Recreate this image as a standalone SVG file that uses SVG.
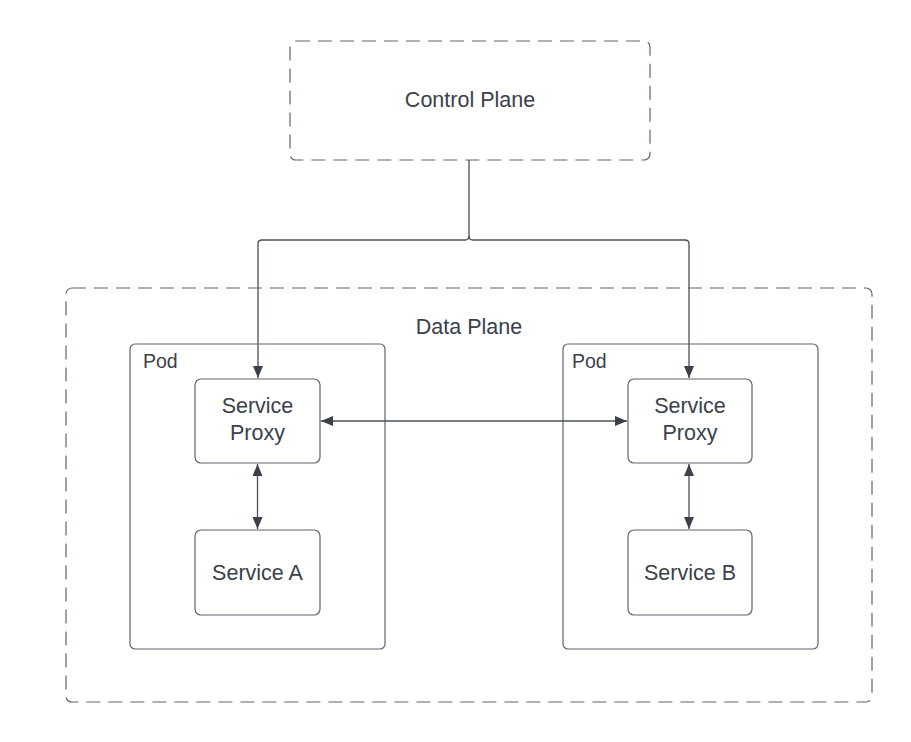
<svg xmlns="http://www.w3.org/2000/svg" width="911" height="742" viewBox="0 0 911 742">
<style>
text{font-family:"Liberation Sans",Arial,sans-serif;fill:#3a414a}
.dash{fill:none;stroke:#5e6670;stroke-width:1.2;stroke-dasharray:14 8}
.box{fill:#fff;stroke:#5e6670;stroke-width:1.2}
.c{fill:none;stroke:#4a5058;stroke-width:1.3}
</style>
<defs>
<marker id="ah" viewBox="0 0 12 10" refX="12" refY="5" markerWidth="12" markerHeight="10" markerUnits="userSpaceOnUse" orient="auto-start-reverse">
<path d="M0,0 L12,5 L0,10 Z" fill="#3a414a"/>
</marker>
</defs>
<rect width="911" height="742" fill="#fff"/>
<g id="control-plane"><rect class="dash" x="290" y="41" width="360" height="119" rx="6"/>
<text x="470" y="107" font-size="21.5" text-anchor="middle">Control Plane</text></g>
<g id="data-plane"><rect class="dash" x="66" y="288" width="806" height="414" rx="6"/>
<text x="469" y="334" font-size="21.5" text-anchor="middle">Data Plane</text></g>
<g id="pod-left"><rect class="box" x="130" y="344" width="255" height="305" rx="5"/>
<text x="143" y="368" font-size="19.5">Pod</text></g>
<g id="pod-right"><rect class="box" x="563" y="344" width="255" height="305" rx="5"/>
<text x="572" y="368" font-size="19.5">Pod</text></g>
<g id="proxy-left"><rect class="box" x="195" y="379" width="125" height="84" rx="6"/>
<text x="257.5" y="413" font-size="21.5" text-anchor="middle">Service</text>
<text x="257.5" y="440" font-size="21.5" text-anchor="middle">Proxy</text></g>
<g id="service-a"><rect class="box" x="195" y="530" width="125" height="85" rx="6"/>
<text x="257.5" y="580" font-size="21.5" text-anchor="middle">Service A</text></g>
<g id="proxy-right"><rect class="box" x="628" y="379" width="124" height="84" rx="6"/>
<text x="690" y="413" font-size="21.5" text-anchor="middle">Service</text>
<text x="690" y="440" font-size="21.5" text-anchor="middle">Proxy</text></g>
<g id="service-b"><rect class="box" x="628" y="530" width="124" height="85" rx="6"/>
<text x="690" y="580" font-size="21.5" text-anchor="middle">Service B</text></g>
<g id="connectors">
<path class="c" d="M469,160 V236 Q469,240 465,240 H262 Q258,240 258,244 V378" marker-end="url(#ah)"/>
<path class="c" d="M469,236 Q469,240 473,240 H685 Q689,240 689,244 V378" marker-end="url(#ah)"/>
<path class="c" d="M321,421 H627" marker-start="url(#ah)" marker-end="url(#ah)"/>
<path class="c" d="M257.5,464 V529" marker-start="url(#ah)" marker-end="url(#ah)"/>
<path class="c" d="M689,464 V529" marker-start="url(#ah)" marker-end="url(#ah)"/>
</g>
</svg>
